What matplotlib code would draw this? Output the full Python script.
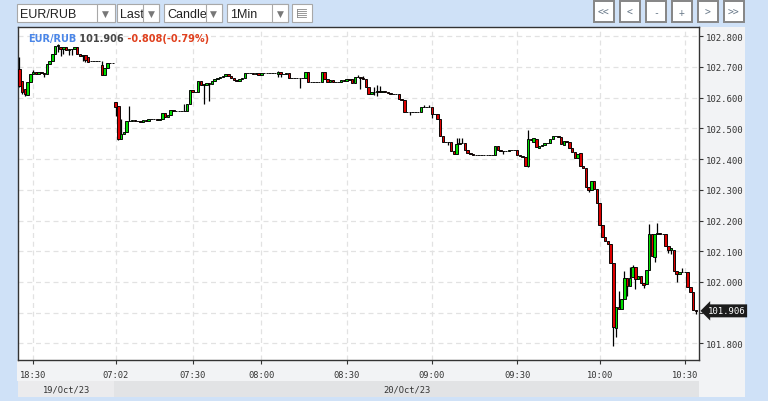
import matplotlib
matplotlib.use('Agg')
import matplotlib.pyplot as plt
from matplotlib.patches import Rectangle
from matplotlib.transforms import blended_transform_factory

# ---- data (1-minute candles) ----
opens = [102.692, 102.654, 102.628, 102.609, 102.651, 102.677, 102.683, 102.677, 102.684, 102.680,
         102.677, 102.710, 102.718, 102.742, 102.768, 102.765, 102.758, 102.765, 102.756, 102.760,
         102.757, 102.766, 102.742, 102.737, 102.738, 102.733, 102.718, 102.720, 102.720, 102.720,
         102.705, 102.675, 102.695, 102.712, 102.712,
         102.585, 102.572, 102.466, 102.482, 102.487, 102.525, 102.525, 102.526, 102.523, 102.525,
         102.522, 102.527, 102.523, 102.530, 102.531, 102.530, 102.526, 102.532, 102.550, 102.537,
         102.545, 102.560, 102.556, 102.558, 102.557, 102.557, 102.557, 102.580, 102.625, 102.619,
         102.618, 102.655, 102.640, 102.640, 102.648, 102.645, 102.655, 102.660, 102.664, 102.667,
         102.670, 102.677, 102.670, 102.663, 102.658, 102.655, 102.660, 102.664, 102.680, 102.681,
         102.680, 102.676, 102.680, 102.675, 102.680, 102.680, 102.681, 102.680, 102.680, 102.677,
         102.683, 102.677, 102.678, 102.681, 102.664, 102.664, 102.664, 102.664, 102.664, 102.665,
         102.683, 102.652, 102.651, 102.650, 102.650, 102.650, 102.683, 102.660, 102.652, 102.656,
         102.650, 102.652, 102.650, 102.656, 102.654, 102.660, 102.660, 102.649, 102.667, 102.668,
         102.664, 102.662, 102.635, 102.612, 102.620, 102.618, 102.622, 102.620, 102.623, 102.620,
         102.614, 102.612, 102.613, 102.611, 102.597, 102.593, 102.553, 102.553, 102.552, 102.553,
         102.553, 102.553, 102.569, 102.569, 102.570, 102.569, 102.548, 102.547, 102.531, 102.476,
         102.457, 102.456, 102.456, 102.427, 102.417, 102.450, 102.452, 102.451, 102.430, 102.420,
         102.415, 102.413, 102.414, 102.413, 102.413, 102.414, 102.413, 102.414, 102.413, 102.443,
         102.430, 102.427, 102.425, 102.427, 102.429, 102.430, 102.429, 102.412, 102.410, 102.408,
         102.378, 102.467, 102.455, 102.465, 102.436, 102.442, 102.447, 102.454, 102.452, 102.467,
         102.474, 102.475, 102.472, 102.446, 102.460, 102.455, 102.436, 102.424, 102.404, 102.420,
         102.379, 102.370, 102.308, 102.300, 102.330, 102.303, 102.257, 102.185, 102.145, 102.134,
         102.123, 102.061, 101.849, 101.920, 101.912, 101.944, 102.012, 101.988, 102.015, 102.048,
         102.010, 102.021, 101.997, 101.993, 102.039, 102.156, 102.082, 102.156, 102.158, 102.157,
         102.156, 102.116, 102.105, 102.105, 102.037, 102.026, 102.033, 102.033, 102.031, 101.984,
         101.968, 101.909]
closes = [102.639, 102.618, 102.612, 102.651, 102.677, 102.683, 102.677, 102.684, 102.680, 102.676,
          102.710, 102.718, 102.742, 102.768, 102.770, 102.758, 102.765, 102.756, 102.760, 102.757,
          102.766, 102.742, 102.737, 102.738, 102.722, 102.716, 102.720, 102.720, 102.720, 102.720,
          102.675, 102.695, 102.713, 102.712, 102.712,
          102.569, 102.466, 102.482, 102.487, 102.525, 102.525, 102.526, 102.523, 102.525, 102.522,
          102.527, 102.523, 102.530, 102.531, 102.530, 102.526, 102.532, 102.550, 102.537, 102.545,
          102.560, 102.556, 102.558, 102.557, 102.557, 102.557, 102.580, 102.624, 102.619, 102.618,
          102.655, 102.640, 102.645, 102.648, 102.645, 102.655, 102.660, 102.664, 102.667, 102.670,
          102.677, 102.670, 102.663, 102.658, 102.655, 102.660, 102.664, 102.680, 102.681, 102.680,
          102.676, 102.680, 102.675, 102.680, 102.680, 102.681, 102.680, 102.680, 102.679, 102.683,
          102.677, 102.678, 102.680, 102.664, 102.664, 102.664, 102.664, 102.664, 102.665, 102.683,
          102.652, 102.651, 102.650, 102.650, 102.650, 102.683, 102.660, 102.652, 102.656, 102.650,
          102.652, 102.650, 102.656, 102.654, 102.660, 102.657, 102.649, 102.667, 102.668, 102.664,
          102.662, 102.635, 102.612, 102.620, 102.618, 102.622, 102.620, 102.623, 102.620, 102.614,
          102.612, 102.613, 102.611, 102.597, 102.593, 102.553, 102.553, 102.552, 102.553, 102.553,
          102.554, 102.569, 102.569, 102.570, 102.569, 102.548, 102.547, 102.531, 102.476, 102.457,
          102.456, 102.455, 102.427, 102.417, 102.450, 102.452, 102.451, 102.430, 102.420, 102.415,
          102.413, 102.414, 102.413, 102.413, 102.414, 102.413, 102.414, 102.413, 102.443, 102.430,
          102.427, 102.425, 102.427, 102.429, 102.430, 102.429, 102.412, 102.410, 102.408, 102.378,
          102.467, 102.462, 102.468, 102.440, 102.442, 102.447, 102.454, 102.452, 102.467, 102.474,
          102.475, 102.472, 102.448, 102.460, 102.455, 102.436, 102.424, 102.404, 102.418, 102.379,
          102.370, 102.308, 102.300, 102.330, 102.303, 102.257, 102.185, 102.145, 102.134, 102.123,
          102.061, 101.852, 101.920, 101.912, 101.944, 102.012, 101.988, 102.013, 102.048, 102.010,
          102.021, 101.997, 101.991, 102.039, 102.156, 102.085, 102.156, 102.158, 102.157, 102.156,
          102.116, 102.105, 102.112, 102.037, 102.026, 102.033, 102.033, 102.031, 101.984, 101.968,
          101.909, 101.906]
# wick extremes where they stick out of the body
wick_highs = {0: 102.733, 5: 102.690, 14: 102.775, 30: 102.719, 37: 102.531, 40: 102.574,
              60: 102.578, 94: 102.686, 123: 102.675, 125: 102.672, 129: 102.635, 130: 102.640,
              131: 102.638, 147: 102.576, 149: 102.577, 159: 102.468, 160: 102.468, 161: 102.470,
              185: 102.494, 218: 101.971, 220: 102.037, 222: 102.050, 223: 102.056, 229: 102.189,
              232: 102.191, 241: 102.045}
wick_lows = {0: 102.636, 1: 102.612, 2: 102.606, 9: 102.668, 14: 102.750, 15: 102.735,
             16: 102.742, 18: 102.740, 19: 102.738, 23: 102.720, 24: 102.715, 35: 102.541,
             36: 102.463, 67: 102.580, 69: 102.590, 94: 102.668, 95: 102.668, 102: 102.631,
             124: 102.628, 129: 102.608, 130: 102.605, 142: 102.545, 150: 102.535, 156: 102.445,
             176: 102.415, 185: 102.375, 207: 102.294, 216: 101.790, 217: 101.820, 221: 101.955,
             224: 101.977, 227: 101.980, 231: 102.066, 236: 102.095, 237: 102.090, 239: 102.000,
             246: 101.897}

price_ticks = [101.8, 101.9, 102.0, 102.1, 102.2, 102.3, 102.4, 102.5, 102.6, 102.7, 102.8]
time_labels = ['18:30', '07:02', '07:30', '08:00', '08:30', '09:00', '09:30', '10:00', '10:30']
time_bars = [5, 35, 63, 88, 119, 150, 181, 211, 242]
day_labels = ['19/Oct/23', '20/Oct/23']
day_first_bar = [0, 35]
symbol = 'EUR/RUB'
last_price = '101.906'
change_txt = '-0.808(-0.79%)'

UP = '#00dd00'
DOWN = '#dd0000'
BG = '#cfe1f7'
PANEL = '#f2f3f5'
MONO = 'DejaVu Sans Mono'

fig = plt.figure(figsize=(7.68, 4.02), dpi=100)
fig.patch.set_facecolor(BG)

# background overlay in pixel coordinates (toolbar, axis panels)
bg = fig.add_axes([0, 0, 1, 1], zorder=0)
bg.set_xlim(0, 768)
bg.set_ylim(402, 0)
bg.axis('off')

bg.add_patch(Rectangle((699, 28), 46, 370, fc=PANEL, ec='none'))
bg.add_patch(Rectangle((17, 361), 682, 21, fc=PANEL, ec='none'))

boxes = [(17.3, 115, 96.7, 'EUR/RUB'), (116.7, 159.3, 143.3, 'Last'),
         (164.3, 221.7, 205.7, 'Candle'), (226.7, 288.3, 271.7, '1Min')]
for x0, x1, sep, lab in boxes:
    bg.add_patch(Rectangle((x0, 5.3), x1 - x0, 18, fc='white', ec='#a8a8a8', lw=0.8, zorder=1))
    bg.text(x0 + 3, 14.6, lab, fontsize=9, family='Liberation Sans', color='#222',
            va='center', ha='left', zorder=2)
    bg.add_patch(Rectangle((sep, 5.3), x1 - sep, 18, fc='white', ec='#a8a8a8', lw=0.8, zorder=3))
    bg.text((sep + x1) / 2, 14.8, '\u25bc', fontsize=6.5, color='#777', ha='center',
            va='center', zorder=4)
bg.add_patch(Rectangle((291.7, 5.3), 20, 18, fc='white', ec='#a8a8a8', lw=0.8))
for k in range(5):
    yy = 9.5 + k * 2.2
    bg.plot([297, 306], [yy, yy], color='#888', lw=0.6)
bg.plot([297, 297], [9.5, 18.3], color='#888', lw=0.6)

nav = ['<<', '<', '-', '+', '>', '>>']
for k, lab in enumerate(nav):
    x0 = 593.5 + k * 26
    bg.add_patch(Rectangle((x0, 2.3), 20.5, 20.5, fc='white', ec='#858585', lw=1.4))
    bg.text(x0 + 10.25, 12.8, lab, fontsize=7, color='#6a7a8a', ha='center', va='center',
            family=MONO)

# ---- main chart ----
ax = fig.add_axes([18 / 768, 41 / 402, 681 / 768, 333 / 402], zorder=1)
ax.set_facecolor('white')

n = len(closes)
idx = list(range(n))
lows_body = [min(o, c) for o, c in zip(opens, closes)]
highs_body = [max(o, c) for o, c in zip(opens, closes)]
highs = [wick_highs.get(i, highs_body[i]) for i in idx]
lows = [wick_lows.get(i, lows_body[i]) for i in idx]
colors = [UP if c > o else DOWN for o, c in zip(opens, closes)]
heights = [max(h - l, 0.0006) for h, l in zip(highs_body, lows_body)]

ax.vlines(idx, lows, highs, color='black', lw=0.9, zorder=3)
ax.bar(idx, heights, bottom=lows_body, width=0.9, color=colors, edgecolor='black',
       linewidth=0.65, zorder=4)

ax.set_xlim(-0.5, n + 0.15)
ax.set_ylim(101.746, 102.830)

ax.set_xticks(time_bars)
ax.set_xticklabels(time_labels)
ax.yaxis.tick_right()
ax.set_yticks(price_ticks)
# the 101.900 label sits under the last-price tag
ax.set_yticklabels(['' if abs(v - 101.9) < 1e-9 else '%.3f' % v for v in price_ticks])
ax.tick_params(axis='x', direction='out', length=3, width=0.8, color='#333', pad=4,
               labelsize=6.3, labelcolor='#333')
ax.tick_params(axis='y', direction='out', length=3, width=0.8, color='#333', pad=1.8,
               labelsize=6.5, labelcolor='#333')
for lab in ax.get_xticklabels() + ax.get_yticklabels():
    lab.set_family(MONO)
ax.grid(True, color='#e2e2e2', linestyle=(0, (4, 3)), linewidth=0.9, zorder=0)
ax.set_axisbelow(True)
for sp in ax.spines.values():
    sp.set_color('#333')
    sp.set_linewidth(1.0)

# date row under the time axis
bt = blended_transform_factory(ax.transData, ax.transAxes)
day_shades = ['#ebebed', '#e2e3e5']
bounds = day_first_bar + [n]
for k, lab in enumerate(day_labels):
    a, b = bounds[k] - 0.5, bounds[k + 1] - 0.5
    if k == len(day_labels) - 1:
        b = n + 0.15
    ax.add_patch(Rectangle((a, -0.111), b - a, 0.048, transform=bt, fc=day_shades[k],
                           ec='none', clip_on=False, zorder=0))
    ax.text((a + b) / 2, -0.087, lab, transform=bt, ha='center', va='center',
            fontsize=6.3, family=MONO, color='#333', clip_on=False)

# legend line at top left
t1 = ax.text(0.0147, 0.967, symbol, transform=ax.transAxes, fontsize=7, weight='bold',
             color='#4a86e8', va='center', ha='left', zorder=6)
t2 = ax.annotate(' ' + last_price, xy=(1, 0), xycoords=t1, va='bottom', ha='left',
                 fontsize=7, weight='bold', color='#444', zorder=6)
ax.annotate(' ' + change_txt, xy=(1, 0), xycoords=t2, va='bottom', ha='left',
            fontsize=7, weight='bold', color='#e0401e', zorder=6)

# last-price tag on the price axis
rt = blended_transform_factory(ax.transAxes, ax.transData)
ax.text(1.0125, closes[-1], last_price, transform=rt, ha='left', va='center', fontsize=6.5,
        family=MONO, color='white', clip_on=False, zorder=7,
        bbox=dict(boxstyle='larrow,pad=0.22', fc='#1c1c1c', ec='none'))

fig.savefig('out.png', dpi=100, facecolor=fig.get_facecolor())
